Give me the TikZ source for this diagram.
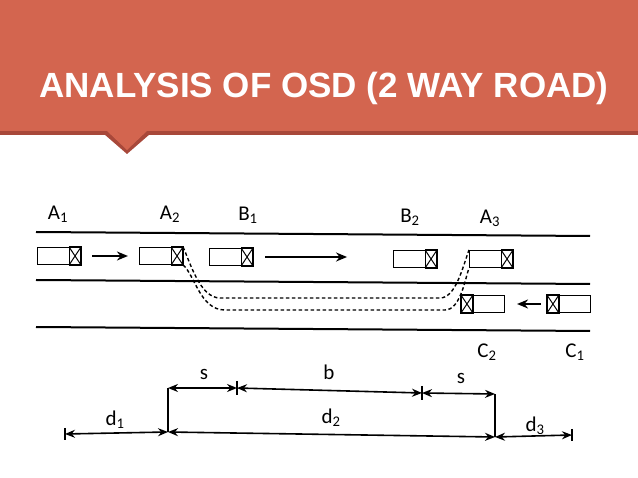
\documentclass[tikz,border=0pt]{standalone}
\usepackage{fontspec}
\setmainfont{Carlito}
\newfontfamily\titlefont{Liberation Sans}
\usetikzlibrary{arrows.meta,calc}
\definecolor{banner}{HTML}{D3654F}
\definecolor{bannerdark}{HTML}{A8483A}
\tikzset{
  car/.style={draw,line width=1.1pt,minimum width=43pt,minimum height=17pt,inner sep=0pt},
  road/.style={line width=2pt},
  lbl/.style={font=\fontsize{21}{24}\selectfont,inner sep=0pt},
  dim/.style={line width=1.6pt,{Stealth[length=10pt,width=8pt]}-{Stealth[length=10pt,width=8pt]}},
  mv/.style={line width=1.8pt,-{Stealth[length=11pt,width=9pt]}},
  dsh/.style={line width=1.4pt,dash pattern=on 3.5pt off 2.5pt},
}
\newcommand{\xcarR}[3]{%
  \node[car] (#1) at (#2,#3) {};
  \draw[line width=1.1pt] ($(#1.north east)+(-12pt,0)$) rectangle (#1.south east);
  \draw[line width=1pt] ($(#1.north east)+(-12pt,0)$) -- (#1.south east) ($(#1.south east)+(-12pt,0)$) -- (#1.north east);}
\newcommand{\xcarL}[3]{%
  \node[car] (#1) at (#2,#3) {};
  \draw[line width=1.1pt] (#1.north west) rectangle ($(#1.south west)+(12pt,0)$);
  \draw[line width=1pt] (#1.north west) -- ($(#1.south west)+(12pt,0)$) (#1.south west) -- ($(#1.north west)+(12pt,0)$);}
\newcommand{\sbs}[1]{\textsubscript{#1}}
\begin{document}
\begin{tikzpicture}[x=1pt,y=-1pt]
\useasboundingbox (0,0) rectangle (638,478);
% banner
\fill[bannerdark] (0,0) rectangle (638,135);
\fill[bannerdark] (104,134) -- (127,154) -- (150,134) -- cycle;
\fill[banner] (0,0) rectangle (638,131);
\fill[banner] (106,130) -- (127,150) -- (148,130) -- cycle;
\node[text=white,font=\titlefont\bfseries\fontsize{35}{38}\selectfont] (title) at (324,88) {ANALYSIS OF OSD (2 WAY ROAD)};
% roads
\coordinate (r1a) at (36,232); \coordinate (r1b) at (590,236);
\coordinate (r2a) at (36,280); \coordinate (r2b) at (590,284);
\coordinate (r3a) at (36,327); \coordinate (r3b) at (590,331);
\draw[road] (r1a) -- (r1b); \draw[road] (r2a) -- (r2b); \draw[road] (r3a) -- (r3b);
% cars
\xcarR{a1}{59}{256}
\xcarR{a2}{161}{256}
\xcarR{b1}{231}{257}
\xcarR{b2}{415}{259}
\xcarR{a3}{491}{259}
\xcarL{c2}{483}{304}
\xcarL{c1}{569}{304}
% movement arrows
\draw[mv] ($(a1.east)+(11pt,0)$) -- ($(a2.west)+(-11pt,0)$);
\draw[mv] ($(b1.east)+(12pt,0)$) -- ($(b1.east)+(94pt,0)$);
\draw[mv] ($(c1.west)+(-6pt,0)$) -- ($(c2.east)+(12pt,0)$);
% dashed paths
\draw[dsh] (a2.north east) .. controls (190,262) and (200,298) .. (220,298) -- (440,298) .. controls (455,298) and (462,270) .. (a3.north west);
\draw[dsh] (a2.south east) .. controls (195,275) and (200,310) .. (225,310) -- (445,310) .. controls (460,310) and (465,280) .. (a3.south west);
% labels
\node[lbl] (la1) at (58,214) {A\sbs{1}};
\node[lbl] (la2) at (170,214) {A\sbs{2}};
\node[lbl] (lb1) at (248,215) {B\sbs{1}};
\node[lbl] (lb2) at (410,217) {B\sbs{2}};
\node[lbl] (la3) at (490,218) {A\sbs{3}};
\node[lbl] (lc2) at (487,352) {C\sbs{2}};
\node[lbl] (lc1) at (575,352) {C\sbs{1}};
% dimensions
\coordinate (p0) at (65,434);
\coordinate (p1) at (168,432);
\coordinate (p1t) at (168,388);
\coordinate (pt1) at (237,388);
\coordinate (pt2) at (422,393);
\coordinate (p2t) at (495,394);
\coordinate (p2) at (495,437);
\coordinate (p3) at (572,435);
\draw[line width=1.6pt] (p1) -- (p1t) (p2) -- (p2t);
\draw[line width=1.6pt] ($(p0)+(0,-6)$) -- ($(p0)+(0,6)$) ($(p3)+(0,-6)$) -- ($(p3)+(0,6)$);
\draw[line width=1.6pt] ($(pt1)+(0,-7)$) -- ($(pt1)+(0,7)$) ($(pt2)+(0,-7)$) -- ($(pt2)+(0,7)$);
\draw[dim] (p0) -- (p1);
\draw[dim] (p1) -- (p2);
\draw[dim] (p2) -- (p3);
\draw[dim] (p1t) -- (pt1);
\draw[dim] (pt1) -- (pt2);
\draw[dim] (pt2) -- (p2t);
\node[lbl] (ls1) at (204,374) {s};
\node[lbl] (lb) at (329,372) {b};
\node[lbl] (ls2) at (461,378) {s};
\node[lbl] (ld1) at (115,420) {d\sbs{1}};
\node[lbl] (ld2) at (331,418) {d\sbs{2}};
\node[lbl] (ld3) at (535,426) {d\sbs{3}};
\end{tikzpicture}
\end{document}
